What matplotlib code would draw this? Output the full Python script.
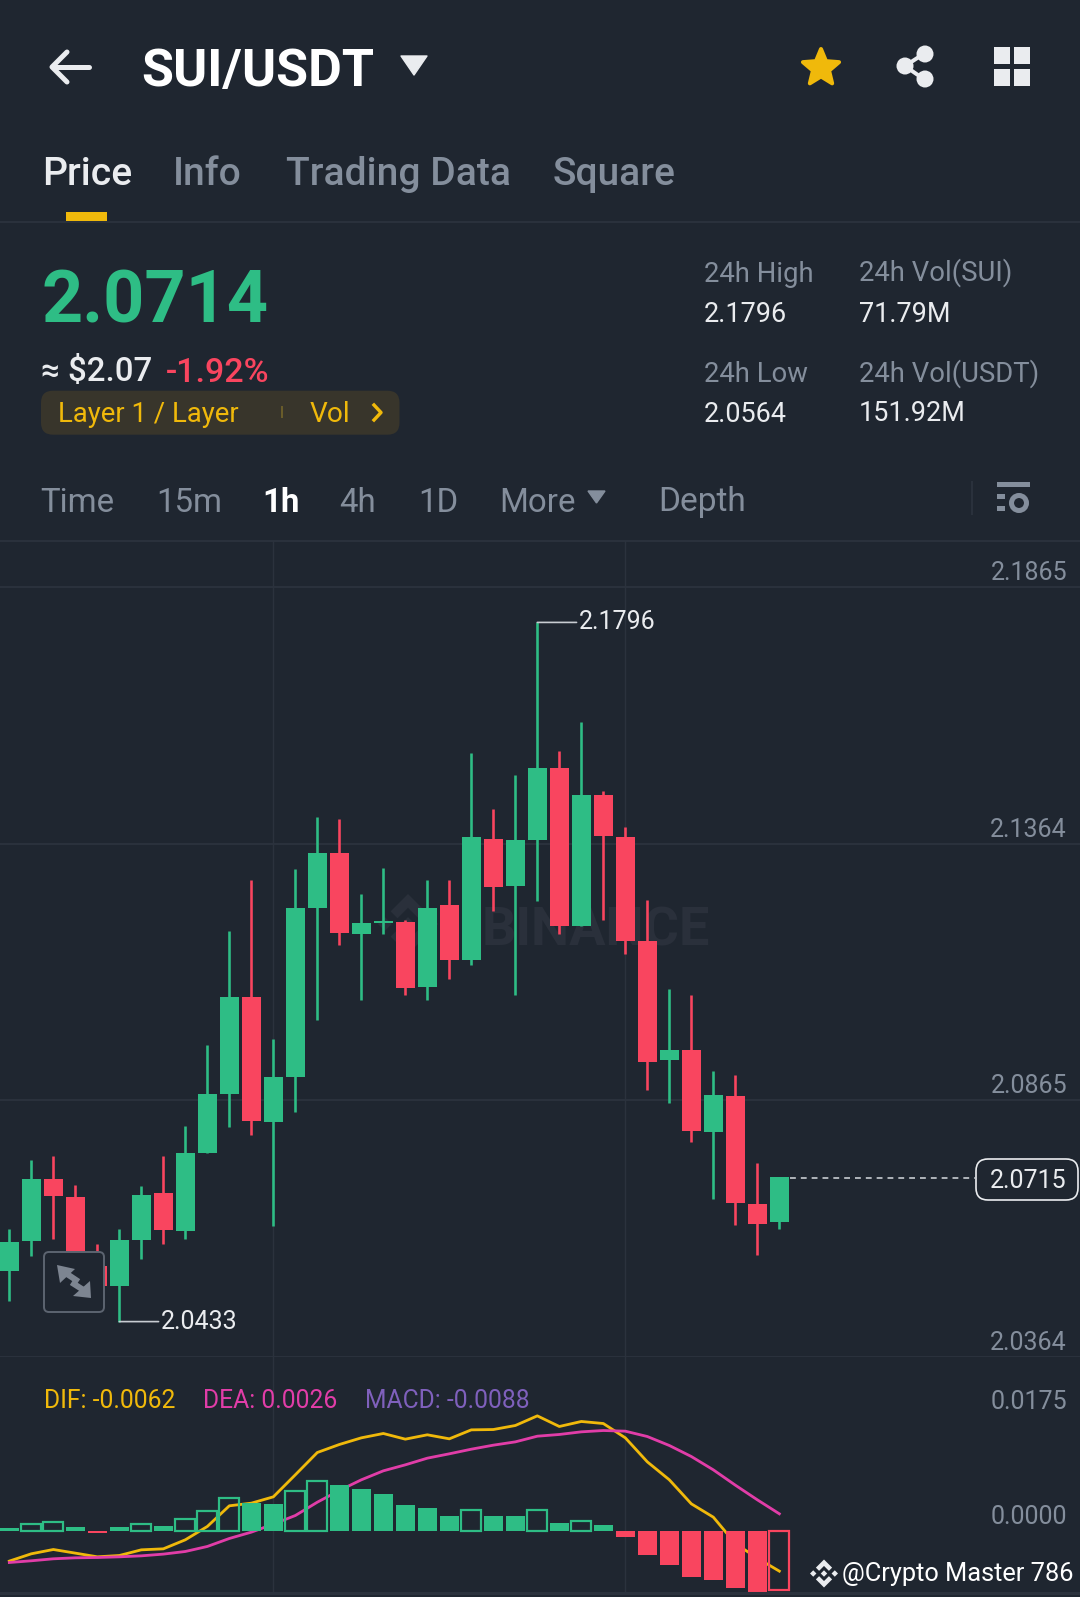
import math
import matplotlib
matplotlib.use("Agg")
import matplotlib.pyplot as plt
from matplotlib.patches import FancyBboxPatch, Polygon, Circle, Rectangle

# candles, oldest first
opens = [2.0532, 2.0591, 2.0711, 2.0676, 2.0542, 2.0503, 2.0593, 2.0683, 2.0610, 2.0762, 2.0877, 2.1065,
         2.0823, 2.0910, 2.1239, 2.1346, 2.1189, 2.1210, 2.1212, 2.1085, 2.1245, 2.1137, 2.1374, 2.1282,
         2.1372, 2.1513, 2.1204, 2.1460, 2.1378, 2.1174, 2.0942, 2.0962, 2.0803, 2.0872, 2.0663, 2.0627]
closes = [2.0588, 2.0711, 2.0677, 2.0542, 2.0502, 2.0592, 2.0680, 2.0612, 2.0761, 2.0877, 2.1065, 2.0824,
          2.0909, 2.1239, 2.1346, 2.1190, 2.1210, 2.1213, 2.1084, 2.1240, 2.1137, 2.1378, 2.1281, 2.1371,
          2.1513, 2.1205, 2.1459, 2.1379, 2.1175, 2.0940, 2.0962, 2.0804, 2.0874, 2.0664, 2.0624, 2.0714]
highs = [2.0613, 2.0748, 2.0756, 2.0700, 2.0585, 2.0613, 2.0697, 2.0756, 2.0814, 2.0973, 2.1194, 2.1293,
         2.0983, 2.1316, 2.1417, 2.1413, 2.1267, 2.1317, 2.1216, 2.1294, 2.1294, 2.1542, 2.1432, 2.1499,
         2.1796, 2.1545, 2.1601, 2.1467, 2.1398, 2.1255, 2.1082, 2.1070, 2.0921, 2.0913, 2.0743, 2.0714]
lows = [2.0473, 2.0560, 2.0595, 2.0529, 2.0488, 2.0433, 2.0556, 2.0585, 2.0594, 2.0762, 2.0812, 2.0797,
        2.0620, 2.0841, 2.1020, 2.1168, 2.1060, 2.1188, 2.1070, 2.1060, 2.1100, 2.1129, 2.1234, 2.1070,
        2.1252, 2.1189, 2.1204, 2.1215, 2.1149, 2.0884, 2.0860, 2.0783, 2.0672, 2.0621, 2.0563, 2.0613]

# macd panel
macd = [0.0006, 0.0012, 0.0015, 0.0007, -0.0003, 0.0007, 0.0011, 0.0009, 0.0019, 0.0031, 0.0050, 0.0043,
        0.0042, 0.0061, 0.0076, 0.0070, 0.0064, 0.0057, 0.0040, 0.0036, 0.0024, 0.0032, 0.0024, 0.0024,
        0.0032, 0.0013, 0.0016, 0.0010, -0.0008, -0.0036, -0.0051, -0.0069, -0.0073, -0.0086, -0.0092, -0.0088]
hollow = [1, 2, 6, 8, 9, 10, 13, 14, 21, 24, 26, 35]
dif = [-0.00449, -0.00338, -0.00273, -0.00328, -0.00384, -0.00364, -0.00278, -0.00263, -0.00126, 0.00076,
       0.00389, 0.00429, 0.00525, 0.00859, 0.01197, 0.01318, 0.01419, 0.01485, 0.01399, 0.01465, 0.01404,
       0.01540, 0.01545, 0.01606, 0.01752, 0.01591, 0.01667, 0.01636, 0.01419, 0.01055, 0.00783, 0.00419,
       0.00217, -0.00182, -0.00404, -0.00601]
dea = [-0.00470, -0.00444, -0.00414, -0.00399, -0.00394, -0.00384, -0.00369, -0.00343, -0.00303, -0.00227,
       -0.00106, -0.00010, 0.00111, 0.00242, 0.00444, 0.00621, 0.00783, 0.00919, 0.01010, 0.01111, 0.01177,
       0.01247, 0.01308, 0.01358, 0.01444, 0.01470, 0.01510, 0.01530, 0.01520, 0.01439, 0.01303, 0.01136,
       0.00934, 0.00702, 0.00480, 0.00268]

price_ticks = [2.1865, 2.1364, 2.0865, 2.0364]
macd_ticks = [0.0175, 0.0]
time_grid = [12, 28]
last_price = 2.0714

BG = "#1F2630"
GRID = "#2B323D"
GREEN = "#2EBD85"
RED = "#F9455F"
YELLOW = "#F0B90B"
PINK = "#E13DA8"
PURPLE = "#7F60BC"
GREY = "#848E9C"
WHITE = "#EAECEF"

plt.rcParams["font.family"] = ["Roboto", "DejaVu Sans"]


def fs(px):
    return px * 0.72


W, H = 1080, 1597
fig = plt.figure(figsize=(W / 100, H / 100), dpi=100, facecolor=BG)


def px_axes(top, bottom):
    a = fig.add_axes([0, 1 - bottom / H, 1, (bottom - top) / H])
    a.set_facecolor("none")
    a.set_xlim((0 - 9.33) / 22, (W - 9.33) / 22)
    a.set_xticks([])
    a.set_yticks([])
    for s in a.spines.values():
        s.set_visible(False)
    return a


ui = fig.add_axes([0, 0, 1, 1], zorder=5)
ui.set_xlim(0, W)
ui.set_ylim(H, 0)
ui.axis("off")

ax = px_axes(541, 1357)
ax.set_ylim(2.0364, 2.19547)
ax2 = px_axes(1357, 1592)
ax2.set_ylim(-0.00917, 0.02644)

xs = list(range(len(opens)))


def binance_logo(target, cx, cy, r, color, zorder):
    # four diamonds' worth of logo: centre, two sides, chevrons above and below
    shapes = [[(0, -0.23), (0.23, 0), (0, 0.23), (-0.23, 0)],
              [(-0.77, -0.23), (-0.54, 0), (-0.77, 0.23), (-1, 0)],
              [(0.77, -0.23), (1, 0), (0.77, 0.23), (0.54, 0)],
              [(0, -1), (0.58, -0.42), (0.35, -0.19), (0, -0.54), (-0.35, -0.19), (-0.58, -0.42)],
              [(0, 1), (0.58, 0.42), (0.35, 0.19), (0, 0.54), (-0.35, 0.19), (-0.58, 0.42)]]
    for pts in shapes:
        target.add_patch(Polygon([(cx + r * a, cy + r * b) for a, b in pts], closed=True, fc=color, ec="none",
                                 zorder=zorder, transform=ui.transData))


# watermark sits under the candles
ax.text(482, 946, "BINANCE", transform=ui.transData, color="#2A303B", fontsize=fs(54),
        fontweight="bold", va="baseline", zorder=0)
binance_logo(ax, 408, 924, 30, "#2A303B", 0)

# price panel
for p in price_ticks:
    ax.axhline(p, color=GRID, lw=1.4, zorder=1)
    ax.annotate("%.4f" % p, xy=(1, p), xycoords=("axes fraction", "data"), xytext=(fs(-13), fs(7)),
                textcoords="offset points", ha="right", va="baseline", color=GREY, fontsize=fs(25))
for a in (ax, ax2):
    for t in time_grid:
        a.axvline(t, color=GRID, lw=1.0, zorder=1)

colors = [GREEN if c >= o else RED for o, c in zip(opens, closes)]
ax.vlines(xs, lows, highs, colors=colors, lw=fs(2.6), zorder=3)
ax.bar(xs, [abs(c - o) for o, c in zip(opens, closes)], bottom=[min(o, c) for o, c in zip(opens, closes)],
       width=19 / 22, color=colors, zorder=4)

# highest and lowest price callouts
hi = highs.index(max(highs))
lo = lows.index(min(lows))
ax.annotate("%.4f" % highs[hi], xy=(hi, highs[hi]), xytext=(fs(42), 0), textcoords="offset points",
            color=WHITE, fontsize=fs(25), va="center", arrowprops=dict(arrowstyle="-", color="#C8CCD2", lw=1.2, shrinkA=0, shrinkB=0))
ax.annotate("%.4f" % lows[lo], xy=(lo, lows[lo]), xytext=(fs(42), 0), textcoords="offset points",
            color=WHITE, fontsize=fs(25), va="center", arrowprops=dict(arrowstyle="-", color="#C8CCD2", lw=1.2, shrinkA=0, shrinkB=0))

# macd panel
ax2.plot(xs, dif, color=YELLOW, lw=fs(2.8), zorder=2)
ax2.plot(xs, dea, color=PINK, lw=fs(2.8), zorder=2)
for i, v in enumerate(macd):
    col = GREEN if v >= 0 else RED
    if i in hollow:
        ax2.bar(i, v, width=20 / 22, fill=False, edgecolor=col, lw=fs(2.2), zorder=3)
    else:
        ax2.bar(i, v, width=19 / 22, color=col, zorder=3)
for v in macd_ticks:
    ax2.annotate("%.4f" % v, xy=(1, v), xycoords=("axes fraction", "data"), xytext=(fs(-13), fs(7)),
                 textcoords="offset points", ha="right", va="baseline", color=GREY, fontsize=fs(25))


def label(x, y, s, px, color, weight="normal", ha="left"):
    ui.text(x, y, s, fontsize=fs(px), color=color, fontweight=weight, ha=ha, va="baseline")


def hline(x0, x1, y, color=GRID, lw=1.4, **kw):
    ui.plot([x0, x1], [y, y], color=color, lw=lw, **kw)


# header
ui.plot([53, 89], [67, 67], color=WHITE, lw=fs(5), solid_capstyle="round")
ui.plot([67, 52, 67], [52, 67, 82], color=WHITE, lw=fs(5), solid_capstyle="round", solid_joinstyle="round")
label(141, 86, "SUI/USDT", 52, "white", "bold")
ui.add_patch(Polygon([(401, 56), (427, 56), (414, 75)], fc=WHITE, ec=WHITE, lw=1, joinstyle="round"))
star = []
for i in range(10):
    r = 19 if i % 2 == 0 else 8.5
    star.append((821 + r * math.sin(i * math.pi / 5), 68 - r * math.cos(i * math.pi / 5)))
ui.add_patch(Polygon(star, fc=YELLOW, ec=YELLOW, lw=fs(4), joinstyle="round"))
ui.plot([925, 905, 925], [53, 66, 80], color=WHITE, lw=fs(4))
for cx, cy in [(925, 54), (905, 66), (925, 79)]:
    ui.add_patch(Circle((cx, cy), 8.5, fc=WHITE, ec="none"))
for x0, y0 in [(994, 47), (1014, 47), (994, 69), (1014, 69)]:
    ui.add_patch(Rectangle((x0, y0), 16, 17, fc=WHITE, ec="none"))

# tabs
label(42.5, 185, "Price", 39, WHITE, "medium")
label(173, 185, "Info", 39, GREY, "medium")
label(286.5, 185, "Trading Data", 39, GREY, "medium")
label(553, 185, "Square", 39, GREY, "medium")
ui.add_patch(Rectangle((66, 212), 41, 9, fc=YELLOW, ec="none"))
hline(0, W, 221.5)

# price block
label(42, 322.5, "2.0714", 72, GREEN, "bold")
label(41, 381.5, "≈ $2.07", 33, WHITE, "medium")
label(166, 381.5, "-1.92%", 34, RED, "medium")
ui.add_patch(FancyBboxPatch((49, 398.7), 342.5, 28, boxstyle="round,pad=8,rounding_size=12", fc="#38352B", ec="none"))
label(58.5, 422.5, "Layer 1 / Layer", 27.5, YELLOW)
ui.plot([282, 282], [407, 417], color="#6B5E2A", lw=1.4)
label(309.5, 422.5, "Vol", 28, YELLOW)
ui.plot([374, 381, 374], [405, 412.5, 420], color=YELLOW, lw=fs(3.4))

# 24h stats
label(704, 282, "24h High", 27.5, GREY)
label(859, 281, "24h Vol(SUI)", 27.5, GREY)
label(704, 322, "2.1796", 27, WHITE)
label(859, 321.5, "71.79M", 27, WHITE)
label(704, 382, "24h Low", 27.5, GREY)
label(859, 381.5, "24h Vol(USDT)", 27.5, GREY)
label(704, 421.5, "2.0564", 27, WHITE)
label(859, 421, "151.92M", 27, WHITE)

# timeframe row
label(40, 511.5, "Time", 33, GREY)
label(156, 511.5, "15m", 33, GREY)
label(262, 511.5, "1h", 33, "white", "bold")
label(339, 511.5, "4h", 33, GREY)
label(418, 511.5, "1D", 33, GREY)
label(499, 511.5, "More", 33, GREY)
ui.add_patch(Polygon([(588, 491), (605, 491), (596.5, 503)], fc=GREY, ec=GREY, lw=1))
label(658, 511.5, "Depth", 33.5, GREY)
ui.plot([972, 972], [482, 514], color=GRID, lw=1.4)
ui.add_patch(Rectangle((997, 482), 33, 5, fc=GREY, ec="none"))
ui.add_patch(Rectangle((997, 494), 8, 5, fc=GREY, ec="none"))
ui.add_patch(Rectangle((997, 506), 8, 5, fc=GREY, ec="none"))
ui.add_patch(Circle((1019, 503), 7.5, fc=BG, ec=GREY, lw=fs(5)))
hline(0, W, 541)

# chart overlays
ui.add_patch(FancyBboxPatch((48, 1256), 52, 52, boxstyle="round,pad=4,rounding_size=5", fc=BG, ec="#5C6470", lw=1.4))
ui.add_patch(Polygon([(57, 1265), (75, 1269), (60, 1283)], fc="#7D8591", ec="none"))
ui.plot([64, 76], [1272, 1280], color="#7D8591", lw=fs(6))
ui.add_patch(Polygon([(91, 1298), (73, 1296), (90, 1281)], fc="#7D8591", ec="none"))
ui.plot([74, 85], [1284, 1291], color="#7D8591", lw=fs(6))

ui.plot([790, 976], [1177.5, 1177.5], color="#C8CCD2", lw=1.2, ls=(0, (3.5, 3)))
ui.add_patch(FancyBboxPatch((986, 1169), 82, 21, boxstyle="round,pad=10,rounding_size=12", fc=BG, ec=WHITE, lw=1.2))
label(1028, 1188, "2.0715", 25, WHITE, ha="center")

# macd legend
label(44, 1408, "DIF: -0.0062", 24.6, YELLOW)
label(203, 1408, "DEA: 0.0026", 24.6, PINK)
label(365, 1408, "MACD: -0.0088", 24.6, PURPLE)

hline(0, W, 1592.5, lw=2.2)
binance_logo(ui, 824, 1573.5, 14, WHITE, 6)
label(842, 1581, "@Crypto Master 786", 25.4, "white")

fig.savefig("out.png", dpi=100, facecolor=BG)
